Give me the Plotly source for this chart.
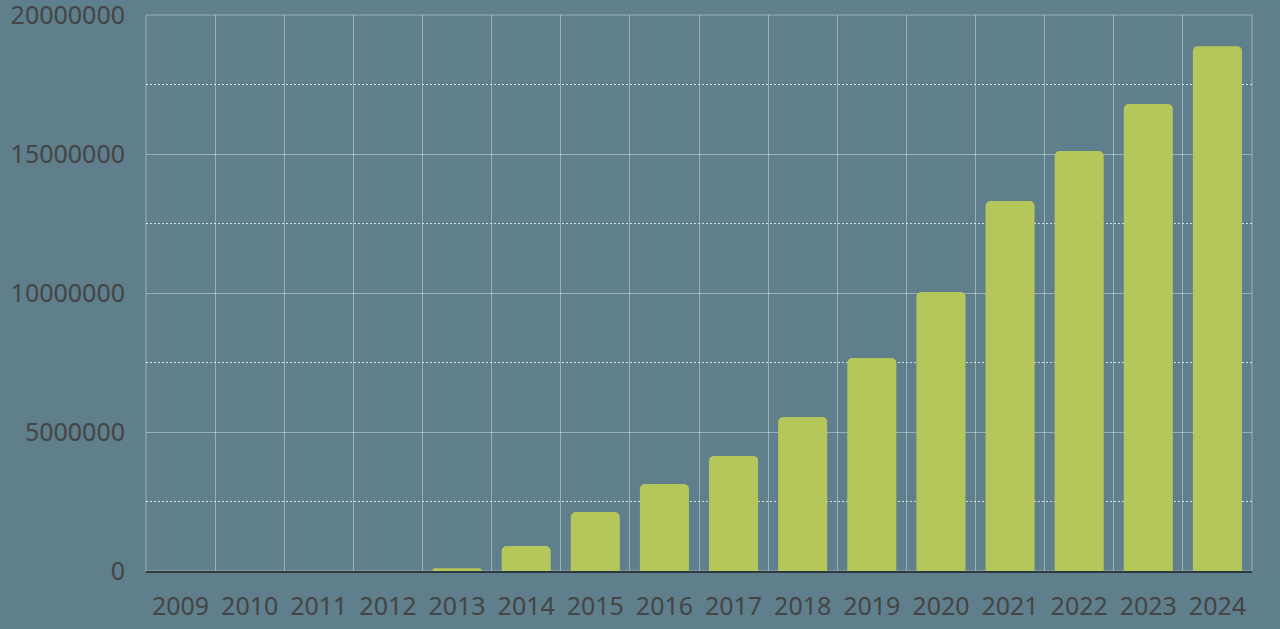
import plotly.graph_objects as go

years = ["2009", "2010", "2011", "2012", "2013", "2014", "2015", "2016",
         "2017", "2018", "2019", "2020", "2021", "2022", "2023", "2024"]
values = [0, 0, 0, 0, 100000, 900000, 2120000, 3130000,
          4140000, 5540000, 7660000, 10040000, 13310000, 15110000, 16800000, 18880000]
y_ticks = [0, 5000000, 10000000, 15000000, 20000000]
y_minor = [2500000, 7500000, 12500000, 17500000]

bg = "#5e7f8b"
grid = "rgba(255,255,255,0.38)"
fig = go.Figure(go.Bar(
    x=years, y=values,
    marker=dict(color="#b5c75a", cornerradius=5, line=dict(width=0)),
    hoverinfo="x+y",
))

fig.update_layout(
    width=1280, height=629,
    paper_bgcolor=bg, plot_bgcolor=bg,
    margin=dict(l=146, r=28, t=15, b=58, autoexpand=False),
    bargap=0.29,
    showlegend=False,
    font=dict(family="Noto Sans, sans-serif", size=25, color="#454545"),
    shapes=[
        dict(type="rect", xref="paper", yref="paper", x0=0, x1=1, y0=0, y1=1,
             line=dict(color=grid, width=1), layer="below"),
    ],
)
fig.update_xaxes(
    type="category", tickson="boundaries", automargin=False,
    showgrid=True, gridcolor=grid, gridwidth=1,
    showline=True, linecolor="#2c3a40", linewidth=2,
    ticks="", ticklabelstandoff=12, ticklabeloverflow="allow",
    tickfont=dict(size=25, color="#454545"),
)
fig.update_yaxes(
    range=[0, 20000200], tickvals=y_ticks, tickformat="d", automargin=False,
    showgrid=True, gridcolor=grid, gridwidth=1,
    zeroline=False, ticks="", ticklabelstandoff=20, ticklabeloverflow="allow",
    tickfont=dict(size=25, color="#454545"),
    minor=dict(tickvals=y_minor, showgrid=True, gridcolor="rgba(255,255,255,0.75)",
               griddash="2px,2px", gridwidth=1.2, ticks=""),
)

fig.write_html("out.html", config={"displayModeBar": False},
               post_script="document.body.style.margin='0';document.body.style.overflow='hidden';")
